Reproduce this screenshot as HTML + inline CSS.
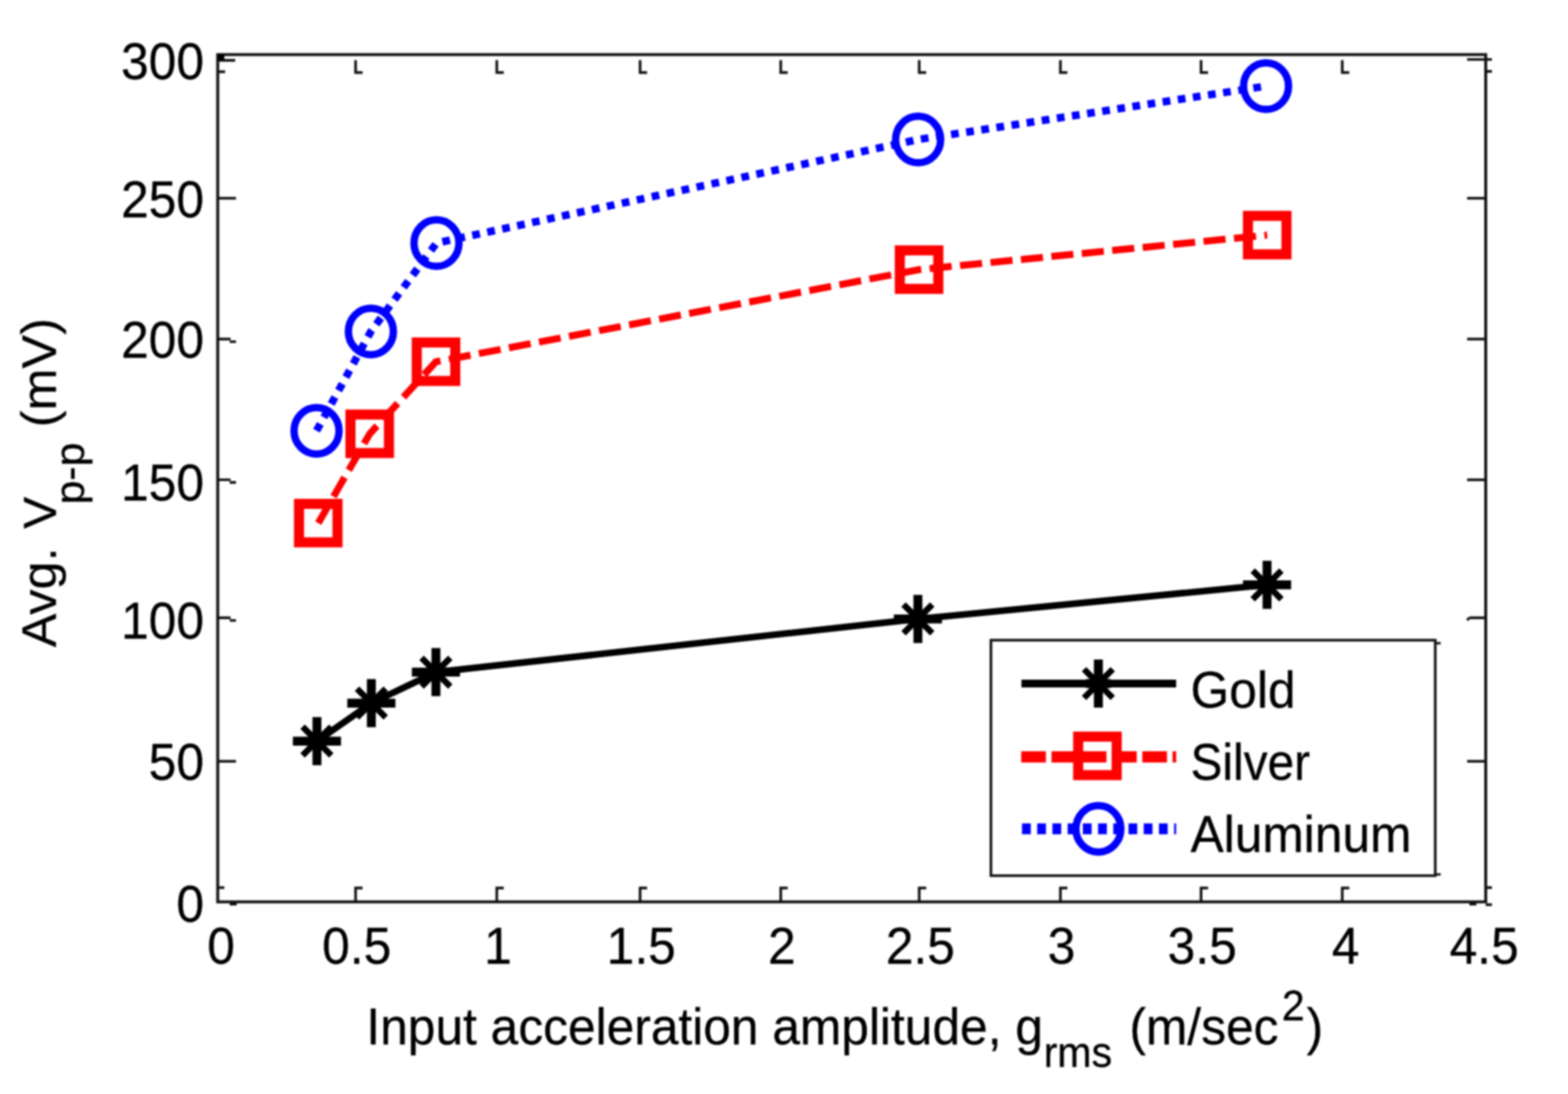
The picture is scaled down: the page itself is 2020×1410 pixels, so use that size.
<!DOCTYPE html>
<html><head><meta charset="utf-8"><title>Avg. Vp-p vs input acceleration</title>
<style>html,body{margin:0;padding:0;background:#fff;overflow:hidden}svg{display:block;filter:blur(1px)}</style>
</head><body>
<svg width="2020" height="1410" viewBox="0 0 2020 1410" font-family="&quot;Liberation Sans&quot;, Arial, Helvetica, sans-serif">
<rect width="2020" height="1410" fill="#fff"/>
<path d="M280.5,70.3 H1914.0 V1162.4 H280.5 Z" stroke="#111" stroke-width="3.8" fill="none"/>
<path d="M280.5,981.2 H304" stroke="#111" stroke-width="3.4" fill="none"/>
<path d="M1914.0,981.2 H1890" stroke="#111" stroke-width="3.4" fill="none"/>
<path d="M280.5,796.2 H297 M296,799.6 H304" stroke="#111" stroke-width="3.4" fill="none"/>
<path d="M1914.0,796.2 H1893 M1893,796.2 L1890,799.2" stroke="#111" stroke-width="3.4" fill="none"/>
<path d="M280.5,618.4 H297 M296,621.8 H304" stroke="#111" stroke-width="3.4" fill="none"/>
<path d="M1914.0,618.4 H1890" stroke="#111" stroke-width="3.4" fill="none"/>
<path d="M280.5,437.0 H297 M296,440.4 H304" stroke="#111" stroke-width="3.4" fill="none"/>
<path d="M1914.0,437.0 H1890" stroke="#111" stroke-width="3.4" fill="none"/>
<path d="M280.5,255.5 H304" stroke="#111" stroke-width="3.4" fill="none"/>
<path d="M1914.0,255.5 H1890" stroke="#111" stroke-width="3.4" fill="none"/>
<path d="M280.5,77.7 H303 M280.5,92.5 H290" stroke="#111" stroke-width="3.4" fill="none"/>
<path d="M1914.0,76.6 H1890 M1914.0,76.6 H1922 M1914.0,92 H1922" stroke="#111" stroke-width="3.4" fill="none"/>
<rect x="281" y="70" width="8" height="8" fill="#000"/>
<path d="M280.5,1144 H289" stroke="#111" stroke-width="3.4" fill="none"/>
<path d="M1914.0,1144 H1922 M1914.0,1166 H1922" stroke="#111" stroke-width="3.4" fill="none"/>
<path d="M296,1165 H305 M1893,1165 H1902" stroke="#111" stroke-width="4" fill="none"/>
<path d="M458.1,1162.4 V1144.5 H467.1" stroke="#111" stroke-width="3.4" fill="none"/>
<path d="M458.1,77.5 V93.5 H467.1" stroke="#111" stroke-width="3.4" fill="none"/>
<path d="M640.0,1162.4 V1144.5 H649.0" stroke="#111" stroke-width="3.4" fill="none"/>
<path d="M640.0,77.5 V93.5 H649.0" stroke="#111" stroke-width="3.4" fill="none"/>
<path d="M824.6,1162.4 V1144.5 H833.6" stroke="#111" stroke-width="3.4" fill="none"/>
<path d="M824.6,77.5 V93.5 H833.6" stroke="#111" stroke-width="3.4" fill="none"/>
<path d="M1005.8,1162.4 V1144.5 H1014.8" stroke="#111" stroke-width="3.4" fill="none"/>
<path d="M1005.8,77.5 V93.5 H1014.8" stroke="#111" stroke-width="3.4" fill="none"/>
<path d="M1184.2,1162.4 V1144.5 H1193.2" stroke="#111" stroke-width="3.4" fill="none"/>
<path d="M1184.2,77.5 V93.5 H1193.2" stroke="#111" stroke-width="3.4" fill="none"/>
<path d="M1366.1,1162.4 V1144.5 H1375.1" stroke="#111" stroke-width="3.4" fill="none"/>
<path d="M1366.1,77.5 V93.5 H1375.1" stroke="#111" stroke-width="3.4" fill="none"/>
<path d="M1547.3,1162.4 V1144.5 H1556.3" stroke="#111" stroke-width="3.4" fill="none"/>
<path d="M1547.3,77.5 V93.5 H1556.3" stroke="#111" stroke-width="3.4" fill="none"/>
<path d="M1729.2,1162.4 V1144.5 H1738.2" stroke="#111" stroke-width="3.4" fill="none"/>
<path d="M1729.2,77.5 V93.5 H1738.2" stroke="#111" stroke-width="3.4" fill="none"/>
<text transform="translate(262.8,1188.0) scale(1,1.05)" font-size="64" text-anchor="end" fill="#000" stroke="#000" stroke-width="0.35">0</text>
<text transform="translate(262.8,1004.8) scale(1,1.05)" font-size="64" text-anchor="end" fill="#000" stroke="#000" stroke-width="0.35">50</text>
<text transform="translate(262.8,823.3) scale(1,1.05)" font-size="64" text-anchor="end" fill="#000" stroke="#000" stroke-width="0.35">100</text>
<text transform="translate(262.8,645.0) scale(1,1.05)" font-size="64" text-anchor="end" fill="#000" stroke="#000" stroke-width="0.35">150</text>
<text transform="translate(262.8,461.0) scale(1,1.05)" font-size="64" text-anchor="end" fill="#000" stroke="#000" stroke-width="0.35">200</text>
<text transform="translate(262.8,279.5) scale(1,1.05)" font-size="64" text-anchor="end" fill="#000" stroke="#000" stroke-width="0.35">250</text>
<text transform="translate(262.8,101.9) scale(1,1.05)" font-size="64" text-anchor="end" fill="#000" stroke="#000" stroke-width="0.35">300</text>
<text transform="translate(284.7,1242.2) scale(1,1.05)" font-size="64" text-anchor="middle" fill="#000" stroke="#000" stroke-width="0.35">0</text>
<text transform="translate(459.6,1242.2) scale(1,1.05)" font-size="64" text-anchor="middle" fill="#000" stroke="#000" stroke-width="0.35">0.5</text>
<text transform="translate(641.5,1242.2) scale(1,1.05)" font-size="64" text-anchor="middle" fill="#000" stroke="#000" stroke-width="0.35">1</text>
<text transform="translate(826.1,1242.2) scale(1,1.05)" font-size="64" text-anchor="middle" fill="#000" stroke="#000" stroke-width="0.35">1.5</text>
<text transform="translate(1007.3,1242.2) scale(1,1.05)" font-size="64" text-anchor="middle" fill="#000" stroke="#000" stroke-width="0.35">2</text>
<text transform="translate(1185.7,1242.2) scale(1,1.05)" font-size="64" text-anchor="middle" fill="#000" stroke="#000" stroke-width="0.35">2.5</text>
<text transform="translate(1367.6,1242.2) scale(1,1.05)" font-size="64" text-anchor="middle" fill="#000" stroke="#000" stroke-width="0.35">3</text>
<text transform="translate(1548.8,1242.2) scale(1,1.05)" font-size="64" text-anchor="middle" fill="#000" stroke="#000" stroke-width="0.35">3.5</text>
<text transform="translate(1733.5,1242.2) scale(1,1.05)" font-size="64" text-anchor="middle" fill="#000" stroke="#000" stroke-width="0.35">4</text>
<text transform="translate(1912.0,1242.2) scale(1,1.05)" font-size="64" text-anchor="middle" fill="#000" stroke="#000" stroke-width="0.35">4.5</text>
<text transform="translate(472.0,1345.5) scale(1,1.05)" font-size="64" fill="#000" stroke="#000" stroke-width="0.35">Input acceleration amplitude, g</text>
<text transform="translate(1344.4,1374.6) scale(1,1.05)" font-size="53" fill="#000" stroke="#000" stroke-width="0.35">rms</text>
<text transform="translate(1455.0,1345.5) scale(1,1.05)" font-size="64" fill="#000" stroke="#000" stroke-width="0.35">(m/sec</text>
<text transform="translate(1651.3,1315.0) scale(1,1.05)" font-size="53" fill="#000" stroke="#000" stroke-width="0.35">2</text>
<text transform="translate(1683.2,1345.5) scale(1,1.05)" font-size="64" fill="#000" stroke="#000" stroke-width="0.35">)</text>
<text transform="translate(72.4,834.3) rotate(-90) scale(1,0.97)" font-size="65" fill="#000" stroke="#000" stroke-width="0.35">Avg.</text>
<text transform="translate(72.4,681.5) rotate(-90) scale(1,0.97)" font-size="62" fill="#000" stroke="#000" stroke-width="0.35">V</text>
<text transform="translate(108.0,650.0) rotate(-90) scale(1,0.97)" font-size="55" fill="#000" stroke="#000" stroke-width="0.35">p-p</text>
<text transform="translate(72.4,550.7) rotate(-90) scale(1,0.97)" font-size="65" fill="#000" stroke="#000" stroke-width="0.35">(mV)</text>
<path d="M408.3,955.2 L478.4,906.2 L561.6,866.3 L1182.5,797.7 L1632.3,753.8" stroke="#000" stroke-width="8.5" fill="none" stroke-linejoin="round"/>
<path d="M410,674.2 L476.3,559.1 L561.7,466.2 L1184,347.5 L1632.5,303" stroke="#f00" stroke-width="9" fill="none" stroke-dasharray="28.5 10.9"/>
<path d="M407.8,555.2 L477.8,427.2 L562.3,313.3 L1182.8,179.8 L1631,111" stroke="#00f" stroke-width="9.8" fill="none" stroke-dasharray="10 9.7"/>
<path d="M408.3,924.2 V986.2 M377.3,955.2 H439.3" stroke="#000" stroke-width="11.5" fill="none"/><path d="M389.8,936.7 L426.8,973.7 M389.8,973.7 L426.8,936.7" stroke="#000" stroke-width="8" fill="none"/>
<path d="M478.4,875.2 V937.2 M447.4,906.2 H509.4" stroke="#000" stroke-width="11.5" fill="none"/><path d="M459.9,887.7 L496.9,924.7 M459.9,924.7 L496.9,887.7" stroke="#000" stroke-width="8" fill="none"/>
<path d="M561.6,835.3 V897.3 M530.6,866.3 H592.6" stroke="#000" stroke-width="11.5" fill="none"/><path d="M543.1,847.8 L580.1,884.8 M543.1,884.8 L580.1,847.8" stroke="#000" stroke-width="8" fill="none"/>
<path d="M1182.5,766.7 V828.7 M1151.5,797.7 H1213.5" stroke="#000" stroke-width="11.5" fill="none"/><path d="M1164.0,779.2 L1201.0,816.2 M1164.0,816.2 L1201.0,779.2" stroke="#000" stroke-width="8" fill="none"/>
<path d="M1632.3,722.8 V784.8 M1601.3,753.8 H1663.3" stroke="#000" stroke-width="11.5" fill="none"/><path d="M1613.8,735.3 L1650.8,772.3 M1613.8,772.3 L1650.8,735.3" stroke="#000" stroke-width="8" fill="none"/>
<rect x="385.2" y="649.4000000000001" width="49.6" height="49.6" stroke="#f00" stroke-width="13" fill="none"/>
<rect x="451.5" y="534.3000000000001" width="49.6" height="49.6" stroke="#f00" stroke-width="13" fill="none"/>
<rect x="536.9000000000001" y="441.4" width="49.6" height="49.6" stroke="#f00" stroke-width="13" fill="none"/>
<rect x="1159.2" y="322.7" width="49.6" height="49.6" stroke="#f00" stroke-width="13" fill="none"/>
<rect x="1607.7" y="278.2" width="49.6" height="49.6" stroke="#f00" stroke-width="13" fill="none"/>
<ellipse cx="407.8" cy="555.2" rx="29" ry="30" stroke="#00f" stroke-width="9.5" fill="none"/>
<ellipse cx="477.8" cy="427.2" rx="29" ry="30" stroke="#00f" stroke-width="9.5" fill="none"/>
<ellipse cx="562.3" cy="313.3" rx="29" ry="30" stroke="#00f" stroke-width="9.5" fill="none"/>
<ellipse cx="1182.8" cy="179.8" rx="29" ry="30" stroke="#00f" stroke-width="9.5" fill="none"/>
<ellipse cx="1631" cy="111" rx="29" ry="30" stroke="#00f" stroke-width="9.5" fill="none"/>
<rect x="1276.6" y="825.1" width="572.4" height="303.5" stroke="#111" stroke-width="3.4" fill="#fff"/>
<path d="M1849,829 H1856 M1849,1127 H1856" stroke="#111" stroke-width="3" fill="none"/>
<path d="M1315.9,881.0 H1515.2" stroke="#000" stroke-width="10" fill="none"/>
<path d="M1415,850.0 V912.0 M1399,881.0 H1431" stroke="#000" stroke-width="11.5" fill="none"/><path d="M1396.5,862.5 L1433.5,899.5 M1396.5,899.5 L1433.5,862.5" stroke="#000" stroke-width="8" fill="none"/>
<path d="M1315.6,975.5 H1515.2" stroke="#f00" stroke-width="14.5" fill="none" stroke-dasharray="31.8 7.2"/>
<rect x="1389.0" y="949.4000000000001" width="49.6" height="49.6" stroke="#f00" stroke-width="13" fill="none"/>
<path d="M1316.6,1068.2 H1515.2" stroke="#00f" stroke-width="14" fill="none" stroke-dasharray="11.3 8.3"/>
<ellipse cx="1415" cy="1068.2" rx="29" ry="30" stroke="#00f" stroke-width="9.5" fill="none"/>
<text transform="translate(1533.8,911.8) scale(1,1.05)" font-size="64" fill="#000" stroke="#000" stroke-width="0.35">Gold</text>
<text transform="translate(1533.8,1005.3) scale(0.962,1.05)" font-size="64" fill="#000" stroke="#000" stroke-width="0.35">Silver</text>
<text transform="translate(1533.8,1098.2) scale(1,1.05)" font-size="64" fill="#000" stroke="#000" stroke-width="0.35">Aluminum</text>
</svg>
</body></html>
